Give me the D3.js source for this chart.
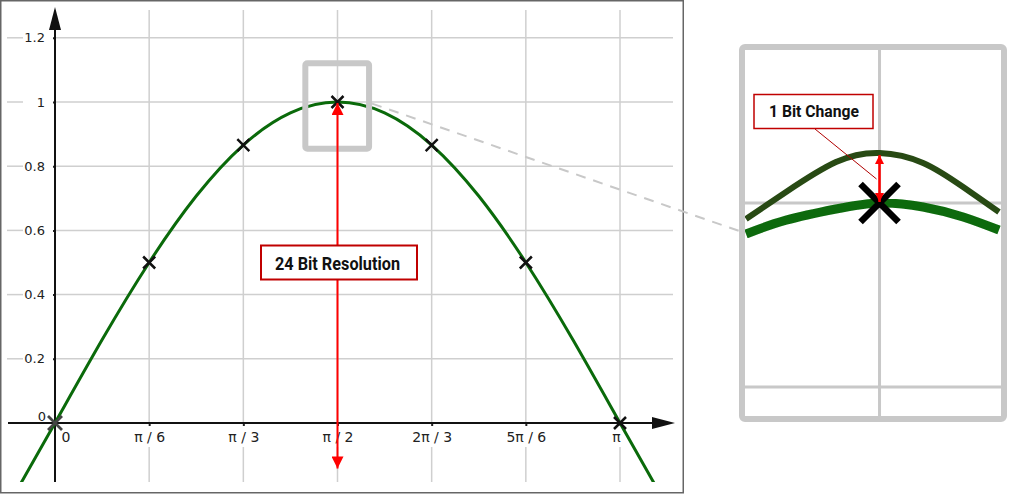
<!DOCTYPE html>
<html>
<head>
<meta charset="utf-8">
<script src="https://cdn.jsdelivr.net/npm/d3@7"></script>
<style>
  body { margin: 0; background: #fff; }
  svg { display: block; }
  .tick text { font-family: "DejaVu Sans", sans-serif; font-size: 13px; fill: #222; }
  .xax .tick text { font-size: 14px; }
  .note { font-family: Roboto, sans-serif; font-weight: bold; fill: #111; }
</style>
</head>
<body>
<div id="chart"></div>
<script>
// tick positions along x, in multiples of pi/6
var xTickSteps = [0, 1, 2, 3, 4, 5, 6];
var xTickLabels = ["0", "π / 6", "π / 3", "π / 2", "2π / 3", "5π / 6", "π"];
var yTicks = [0, 0.2, 0.4, 0.6, 0.8, 1, 1.2];
var yTickLabels = ["0", "0.2", "0.4", "0.6", "0.8", "1", "1.2"];

var curveSteps = [-0.5, 0, 0.5, 1, 1.5, 2, 2.5, 3, 3.5, 4, 4.5, 5, 5.5, 6, 6.5];
var curveValues = [-0.259, 0, 0.259, 0.5, 0.707, 0.866, 0.966, 1, 0.966, 0.866, 0.707, 0.5, 0.259, 0, -0.259];

// the marked samples
var sampleSteps = [0, 1, 2, 3, 4, 5, 6];
var sampleValues = [0, 0.5, 0.866, 1, 0.866, 0.5, 0];

// magnified view around the peak: offsets from pi/2 (radians)
var zoomOffsets = [-0.19, -0.133, -0.062, 0, 0.062, 0.119, 0.17];
var zoomCurve = [0.982, 0.990, 0.9965, 1, 0.9977, 0.9919, 0.9843];
var zoomShifted = [0.9907, 1.0064, 1.0238, 1.0291, 1.0233, 1.0093, 0.9948];
var zoomGridY = [1, 0.893];
var zoomBoxY = [0.845, 1.13];

var W = 1024, H = 498;
var step = Math.PI / 6;

var svg = d3.select("#chart").append("svg")
    .attr("width", W)
    .attr("height", H);

var defs = svg.append("defs");
defs.append("clipPath").attr("id", "mainClip")
  .append("rect").attr("x", 1).attr("y", 1).attr("width", 681).attr("height", 481);
defs.append("clipPath").attr("id", "zoomClip")
  .append("rect").attr("x", 745).attr("y", 50).attr("width", 256).attr("height", 366);
defs.append("filter").attr("id", "soft")
  .append("feGaussianBlur").attr("stdDeviation", 0.7);

function arrowMarker(id, len, wid) {
  defs.append("marker")
      .attr("id", id)
      .attr("viewBox", "0 0 10 10")
      .attr("refX", 10).attr("refY", 5)
      .attr("markerUnits", "userSpaceOnUse")
      .attr("markerWidth", len).attr("markerHeight", wid)
      .attr("orient", "auto-start-reverse")
    .append("path")
      .attr("d", "M0,0L10,5L0,10Z")
      .attr("fill", "#f00");
}
arrowMarker("redArrow", 15, 12);
arrowMarker("redArrowSmall", 11, 9);

// scales of the main plot
var x = d3.scaleLinear().domain([0, Math.PI]).range([55, 620]);
var y = d3.scaleLinear().domain([0, 1]).range([423, 102]);

// frame of main plot
svg.append("rect")
    .attr("x", 0.75).attr("y", 0.75)
    .attr("width", 682.5).attr("height", 492)
    .attr("fill", "none")
    .attr("stroke", "#666")
    .attr("stroke-width", 1.5);

var grid = svg.append("g").attr("stroke", "#cfcfcf").attr("stroke-width", 1.5);

// horizontal grid, broken where the labels sit
yTicks.filter(function(d) { return d > 0; }).forEach(function(d) {
  grid.append("line").attr("x1", 7).attr("x2", 23).attr("y1", y(d)).attr("y2", y(d));
  grid.append("line").attr("x1", x(0)).attr("x2", 673).attr("y1", y(d)).attr("y2", y(d));
});
// vertical grid
xTickSteps.filter(function(d) { return d > 0; }).forEach(function(d) {
  grid.append("line").attr("x1", x(d * step)).attr("x2", x(d * step)).attr("y1", 10).attr("y2", y(0));
  grid.append("line").attr("x1", x(d * step)).attr("x2", x(d * step)).attr("y1", 447).attr("y2", 482);
});

// axes
var xAxis = svg.append("g")
    .attr("class", "xax")
    .attr("transform", "translate(0," + y(0) + ")")
    .call(d3.axisBottom(x)
      .tickValues(xTickSteps.map(function(d) { return d * step; }))
      .tickFormat(function(d, i) { return xTickLabels[i]; })
      .tickSizeInner(3).tickSizeOuter(0).tickPadding(6));
xAxis.select(".domain").remove();
xAxis.selectAll(".tick line").attr("stroke", "#222").attr("stroke-width", 2);
xAxis.selectAll(".tick text").filter(function(d, i) { return i === 0; })
    .attr("text-anchor", "start").attr("x", 6);
xAxis.selectAll(".tick text").filter(function(d, i) { return i === 6; })
    .attr("x", -4);

var yAxis = svg.append("g")
    .attr("transform", "translate(" + x(0) + ",0)")
    .call(d3.axisLeft(y)
      .tickValues(yTicks)
      .tickFormat(function(d, i) { return yTickLabels[i]; })
      .tickSizeInner(2).tickSizeOuter(0).tickPadding(8));
yAxis.select(".domain").remove();
yAxis.selectAll(".tick line").attr("stroke", "#222").attr("stroke-width", 2);
yAxis.selectAll(".tick text").filter(function(d) { return d === 0; })
    .attr("y", -7).attr("x", -9);

// axis lines with arrow heads
svg.append("line")
    .attr("x1", 8).attr("x2", 656).attr("y1", y(0)).attr("y2", y(0))
    .attr("stroke", "#111").attr("stroke-width", 2);
svg.append("path")
    .attr("d", "M" + 652 + "," + (y(0) - 6) + "L675," + y(0) + "L652," + (y(0) + 6) + "Z")
    .attr("fill", "#111");
svg.append("line")
    .attr("x1", x(0)).attr("x2", x(0)).attr("y1", 482).attr("y2", 26)
    .attr("stroke", "#111").attr("stroke-width", 2);
svg.append("path")
    .attr("d", "M" + (x(0) - 6) + ",30L" + x(0) + ",7L" + (x(0) + 6) + ",30Z")
    .attr("fill", "#111");

// sine curve
var line = d3.line()
    .x(function(d, i) { return x(curveSteps[i] * step); })
    .y(function(d) { return y(d); })
    .curve(d3.curveNatural);

svg.append("path")
    .datum(curveValues)
    .attr("clip-path", "url(#mainClip)")
    .attr("d", line)
    .attr("fill", "none")
    .attr("stroke", "#0a6a0a")
    .attr("stroke-width", 3);

// zoom box on the main plot
var zoomX0 = Math.PI / 2 + zoomOffsets[0];
var zoomX1 = Math.PI / 2 + zoomOffsets[zoomOffsets.length - 1];
svg.append("rect")
    .attr("x", x(zoomX0) + 2).attr("y", y(zoomBoxY[1]) + 3)
    .attr("width", x(zoomX1) - x(zoomX0) - 1)
    .attr("height", y(zoomBoxY[0]) - y(zoomBoxY[1]) - 6)
    .attr("rx", 2)
    .attr("fill", "none")
    .attr("stroke", "#c8c8c8")
    .attr("stroke-width", 6);

// sample markers
var marks = svg.append("g");
sampleValues.forEach(function(v, i) {
  var cx = x(sampleSteps[i] * step), cy = y(v), s = i === 0 ? 7 : 6;
  marks.append("path")
      .attr("d", "M" + (cx - s) + "," + (cy - s) + "L" + (cx + s) + "," + (cy + s) +
                 "M" + (cx - s) + "," + (cy + s) + "L" + (cx + s) + "," + (cy - s))
      .attr("stroke", i === 0 ? "#444" : "#111")
      .attr("stroke-width", i === 0 ? 2.8 : 2.5);
});

// 24 bit resolution arrow
svg.append("line")
    .attr("x1", x(Math.PI / 2)).attr("x2", x(Math.PI / 2))
    .attr("y1", y(1) + 1).attr("y2", y(-0.142))
    .attr("stroke", "#f00").attr("stroke-width", 2)
    .attr("marker-start", "url(#redArrow)")
    .attr("marker-end", "url(#redArrow)");

var boxCy = y(0.5);
svg.append("rect")
    .attr("x", 261).attr("y", boxCy - 17)
    .attr("width", 156).attr("height", 34)
    .attr("fill", "#fff")
    .attr("stroke", "#c00000").attr("stroke-width", 2);
svg.append("text")
    .attr("class", "note")
    .attr("x", x(Math.PI / 2)).attr("y", boxCy + 7)
    .attr("text-anchor", "middle")
    .attr("font-size", 19)
    .attr("textLength", 125)
    .attr("lengthAdjust", "spacingAndGlyphs")
    .text("24 Bit Resolution");

// magnified panel
var xz = d3.scaleLinear().domain([zoomOffsets[0], zoomOffsets[zoomOffsets.length - 1]]).range([746, 999]);
var yz = d3.scaleLinear().domain([zoomGridY[1], zoomGridY[0]]).range([387, 203]);

// dashed connector
svg.append("line")
    .attr("x1", x(zoomX1) + 4).attr("y1", y(0.995))
    .attr("x2", 742).attr("y2", yz(zoomCurve[0]) - 2)
    .attr("stroke", "#c8c8c8").attr("stroke-width", 2)
    .attr("stroke-dasharray", "10,8");

svg.append("rect")
    .attr("x", 742).attr("y", 47)
    .attr("width", 262).attr("height", 372)
    .attr("rx", 3)
    .attr("fill", "#fff")
    .attr("stroke", "#c8c8c8")
    .attr("stroke-width", 6);

var zg = svg.append("g").attr("clip-path", "url(#zoomClip)");
zg.append("line")
    .attr("x1", xz(0)).attr("x2", xz(0)).attr("y1", 50).attr("y2", 416)
    .attr("stroke", "#c8c8c8").attr("stroke-width", 3);
zoomGridY.forEach(function(d) {
  zg.append("line")
      .attr("x1", 745).attr("x2", 1001).attr("y1", yz(d)).attr("y2", yz(d))
      .attr("stroke", "#c8c8c8").attr("stroke-width", 3);
});

var zline = d3.line()
    .x(function(d, i) { return xz(zoomOffsets[i]); })
    .y(function(d) { return yz(d); })
    .curve(d3.curveNatural);

zg.append("path")
    .datum(zoomCurve)
    .attr("d", zline)
    .attr("fill", "none")
    .attr("stroke", "#0a6a0a")
    .attr("stroke-width", 9)
    .attr("filter", "url(#soft)");

zg.append("path")
    .datum(zoomShifted)
    .attr("d", zline)
    .attr("fill", "none")
    .attr("stroke", "#284a14")
    .attr("stroke-width", 6);

// big marker in the panel
var mx = xz(0), my = yz(1), ms = 19;
zg.append("path")
    .attr("d", "M" + (mx - ms) + "," + (my - ms) + "L" + (mx + ms) + "," + (my + ms) +
               "M" + (mx - ms) + "," + (my + ms) + "L" + (mx + ms) + "," + (my - ms))
    .attr("stroke", "#000").attr("stroke-width", 6.5)
    .attr("filter", "url(#soft)");

// 1 bit change arrow
zg.append("line")
    .attr("x1", mx).attr("x2", mx)
    .attr("y1", yz(1) - 1).attr("y2", yz(d3.max(zoomShifted)) + 2)
    .attr("stroke", "#f00").attr("stroke-width", 2.5)
    .attr("marker-start", "url(#redArrowSmall)")
    .attr("marker-end", "url(#redArrowSmall)");

svg.append("line")
    .attr("x1", 815).attr("y1", 129)
    .attr("x2", mx - 3).attr("y2", 179)
    .attr("stroke", "#b00000").attr("stroke-width", 1);

svg.append("rect")
    .attr("x", 754).attr("y", 94.5)
    .attr("width", 119).attr("height", 34)
    .attr("fill", "#fff")
    .attr("stroke", "#c00000").attr("stroke-width", 1.5);
svg.append("text")
    .attr("class", "note")
    .attr("x", 814).attr("y", 117)
    .attr("text-anchor", "middle")
    .attr("font-size", 17)
    .attr("textLength", 90)
    .attr("lengthAdjust", "spacingAndGlyphs")
    .text("1 Bit Change");
</script>
</body>
</html>
